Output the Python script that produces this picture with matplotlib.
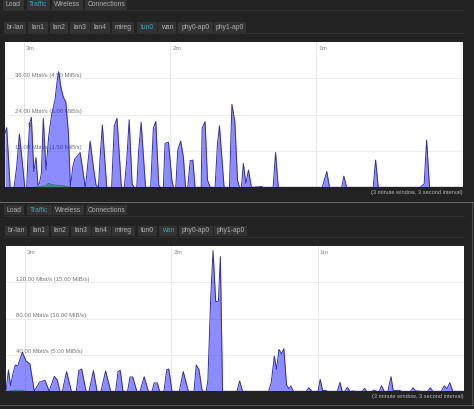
import matplotlib
matplotlib.use("Agg")
import matplotlib.pyplot as plt
from matplotlib.patches import Rectangle

plt.rcParams['font.family'] = ['Liberation Sans', 'DejaVu Sans']

# tun0: seconds since window start, Mbit/s
tun0_t = [0, 0.7, 2.1, 3.7, 4.8, 5.9, 7.0, 8.1, 8.9, 9.7, 10.1, 10.8, 11.8, 12.7, 13.5, 14.1, 14.9, 15.7, 16.8,
          17.9, 19.1, 20.5, 21.5, 22.0, 23.0, 23.9, 24.9, 26.0, 26.8, 27.8, 28.6, 30.8, 32.9, 33.2, 34.9, 36.2,
          37.3, 38.3, 39.0, 39.9, 41.7, 43.7, 44.8, 45.9, 47.7, 48.9, 49.9, 50.9, 52.1, 52.9, 54.0, 54.8, 55.8,
          57.6, 59.7, 60.8, 61.8, 63.0, 63.6, 64.9, 65.6, 67.0, 68.4, 69.0, 70.0, 70.8, 72.0, 73.1, 74.0, 74.9,
          75.9, 77.0, 77.9, 80.4, 80.8, 82.0, 83.0, 84.1, 86.1, 87.1, 87.9, 89.8, 92.0, 93.0, 94.2, 95.3, 96.1,
          96.9, 97.7, 98.7, 99.8, 101.0, 104.6, 105.1, 105.7, 109.9, 110.9, 112.0, 130.0, 131.9, 133.0, 138.0,
          138.9, 140.0, 150.9, 151.9, 153.0, 170.2, 171.1, 171.8, 172.8, 174.0, 187.7]
tun0_rx = [17.9, 19.7, 0, 0, 6.8, 17.6, 9.0, 0, 0, 15.6, 21.2, 23.1, 5.2, 9.8, 0.8, 1.3, 4.6, 22.8, 5.7,
           16.8, 23.9, 28.9, 36.0, 38.2, 32.7, 29.8, 28.3, 17.9, 0, 6.8, 9.3, 11.5, 0, 1.9, 15.3, 6.8,
           0.8, 0, 10.1, 20.6, 0, 0, 20.3, 22.8, 0, 0, 9.0, 22.3, 1.1, 0, 0, 12.3, 21.5,
           0, 0, 19.5, 21.8, 0.8, 0, 0, 14.5, 14.9, 2.4, 0, 0, 12.3, 15.3, 10.1, 0, 0,
           8.8, 9.0, 0, 0, 19.5, 21.7, 2.4, 0, 0, 14.5, 20.3, 0, 0, 27.4, 21.7, 2.4, 0,
           0, 7.9, 1.3, 5.7, 0, 0.2, 0.3, 0, 0, 11.5, 0, 0, 5.2, 0, 0,
           3.7, 0, 0, 9.0, 0, 0, 0.7, 1.1, 15.6, 0, 0]
tun0_tx_t = [11.6, 13.6, 15.0, 16.8, 17.8, 19.1, 21.2, 23.9, 26.4]
tun0_tx = [0, 0.2, 0.3, 0.5, 1.3, 0.9, 0.7, 0.5, 0]

# wan
wan_t = [0, 1.0, 1.9, 2.7, 3.8, 4.8, 6.7, 8.2, 9.8, 11.6, 12.6, 13.9, 16.0, 17.7, 18.3, 19.8, 21.0, 22.1, 23.1,
         24.8, 26.8, 28.8, 29.8, 31.0, 32.8, 34.0, 35.8, 37.3, 38.9, 40.8, 42.9, 44.9, 45.9, 46.8, 47.9, 49.8,
         50.8, 51.9, 53.6, 54.9, 56.6, 58.3, 59.8, 60.7, 62.0, 62.9, 64.7, 65.8, 66.7, 68.0, 71.0, 72.6, 74.7,
         77.0, 77.9, 79.0, 80.3, 80.8, 82.0, 82.7, 83.8, 84.8, 85.9, 87.0, 87.8, 88.7, 94.6, 95.7, 96.9, 107.6,
         108.7, 109.9, 110.8, 111.8, 112.9, 113.8, 114.9, 115.9, 116.7, 117.7, 122.9, 124.0, 125.4, 127.8, 128.7,
         129.7, 130.9, 131.7, 135.7, 136.8, 137.7, 138.8, 139.8, 140.9, 142.2, 143.2, 145.9, 146.9, 147.7, 150.0,
         150.8, 151.8, 152.9, 153.8, 154.9, 156.4, 157.7, 158.6, 161.1, 162.0, 165.7, 166.7, 167.8, 169.1, 169.8,
         172.7, 173.8, 174.8, 178.3, 179.5, 180.6, 181.8, 183.0, 187.6]
wan_rx = [0, 23.5, 5.9, 18, 29, 27.9, 42.9, 33.4, 30.1, 0, 5.1, 10.3, 12.1, 0, 5.1, 16.5, 12.5, 0, 0,
          21.7, 0, 0, 22.8, 24.6, 0, 0, 22.8, 0, 0, 22.4, 0, 0, 21.7, 23.1, 0, 0,
          15.8, 15.8, 0, 0, 16.1, 0, 0, 9.2, 9.2, 0, 0, 23.5, 24.6, 0, 0, 21.7, 0,
          0, 29, 24.2, 1.5, 0, 0, 12.5, 100, 154.9, 98.7, 99.1, 148.3, 0, 0, 11.4, 0, 0,
          10.6, 38.9, 24.2, 46.2, 41.1, 47, 7, 2.9, 5.9, 0, 0, 4, 0, 0, 13.2,
          0.7, 1.1, 0, 0, 9.9, 0, 0, 4.4, 0, 0.4, 0, 0, 3.3, 0, 0,
          1.5, 0, 0, 6.2, 0, 0, 16.1, 0.7, 1.1, 0, 0, 4, 0.4, 0.4, 0,
          0, 4, 0, 0, 5.9, 2.9, 9.5, 0, 0]
wan_tx_t = [1.0, 2.5, 4.5, 7.0, 8.0]
wan_tx = [0, 0.9, 1.2, 1.0, 0]

main_tabs = ['Load', 'Traffic', 'Wireless', 'Connections']
if_tabs = ['br-lan', 'lan1', 'lan2', 'lan3', 'lan4', 'mireg', 'tun0', 'wan', 'phy0-ap0', 'phy1-ap0']

# tab edges in pixels (left, right)
top_main = [(3, 24), (27, 50), (52, 83), (85, 127)]
top_if = [(4, 26), (28, 48), (50, 68), (70, 90), (91, 110), (112, 134), (137, 157), (158, 176), (178, 213), (214, 246)]
bot_main = [(4, 24), (27, 52), (53, 84), (86, 127)]
bot_if = [(5, 27), (30, 49), (51, 69), (71, 91), (92, 111), (112, 135), (138, 157), (159, 177), (179, 213), (214, 247)]

BG = '#222222'
TAB = '#333333'
TEXT = '#b0b0b0'
ACTIVE = '#3f9fb8'
LABEL = '#777777'
FILL = '#0000ff'
LINE = '#3030a4'

W, H = 474, 409
fig = plt.figure(figsize=(W / 100, H / 100), dpi=100, facecolor=BG)

# overlay in pixel coordinates for the page furniture
page = fig.add_axes([0, 0, 1, 1], zorder=0)
page.set_xlim(0, W)
page.set_ylim(H, 0)
page.axis('off')


def draw_tabs(edges, labels, y0, y1, active):
    for (a, b), name in zip(edges, labels):
        page.add_patch(Rectangle((a, y0), b - a, y1 - y0, fc=TAB, ec='none'))
        page.text((a + b) / 2, (y0 + y1) / 2, name, ha='center', va='center', fontsize=4.9,
                  color=ACTIVE if name == active else TEXT)


def draw_graph(box, t, rx, tx_t, tx, ymax, ticks, caption_y):
    left, right, top, bottom = box
    ax = fig.add_axes([left / W, 1 - bottom / H, (right - left) / W, (bottom - top) / H], zorder=1)
    ax.set_facecolor('white')
    ax.set_xlim(0, 187.6)
    ax.set_ylim(0, ymax)
    ax.set_xticks([])
    ax.set_yticks([])
    for s in ax.spines.values():
        s.set_visible(False)

    for x, name in zip([7.6, 67.6, 127.6], ['3m', '2m', '1m']):
        ax.axvline(x, color='#e8e8e8', lw=0.7, zorder=1)
        ax.text(x + 1, ymax * 0.97, name, fontsize=4.6, color='#888888', va='top', zorder=2)
    for mbit, mib in ticks:
        ax.axhline(mbit, color='#ececec', lw=0.7, zorder=1)
        ax.text(4, mbit + ymax * 0.022, f'{mbit:.2f} Mbit/s ({mib:.2f} MiB/s)', fontsize=4.35,
                color=LABEL, va='center', zorder=2)

    ax.fill_between(t, rx, 0, color=FILL, alpha=0.45, lw=0, zorder=3)
    ax.plot(t, rx, color=LINE, lw=0.7, zorder=4)
    ax.fill_between(tx_t, tx, 0, color='#008000', alpha=0.45, lw=0, zorder=5)
    ax.plot(tx_t, tx, color='#2a7a50', lw=0.6, zorder=5)

    page.text(right, caption_y, '(3 minute window, 3 second interval)', ha='right', va='center',
              fontsize=4.1, color='#b8b8b8')
    return ax


# separators
page.add_patch(Rectangle((0, 201.5), W, 1.6, fc='#6a6a6a', ec='none'))
page.add_patch(Rectangle((0, 404.5), W, 1.2, fc='#555555', ec='none'))
page.add_patch(Rectangle((472, 203), 1.2, 202, fc='#4a4a4a', ec='none'))
for y in [9.7, 32.5, 215.5, 236.5]:
    page.plot([3, 464], [y, y], color='#303030', lw=0.7)

draw_tabs(top_main, main_tabs, 0, 9.5, 'Traffic')
draw_tabs(top_if, if_tabs, 22, 32.5, 'tun0')
draw_tabs(bot_main, main_tabs, 205, 215, 'Traffic')
draw_tabs(bot_if, if_tabs, 226, 236, 'wan')

ax1 = draw_graph((5, 462.7, 42, 187.3), tun0_t, tun0_rx, tun0_tx_t, tun0_tx, 48,
                 [(12, 1.5), (24, 3), (36, 4.5)], 192.6)
ax1.text(9.5, 20.5, '5', fontsize=4.6, color='#555555', va='center', zorder=6)
draw_graph((6, 464, 246, 391.3), wan_t, wan_rx, wan_tx_t, wan_tx, 160,
           [(40, 5), (80, 10), (120, 15)], 396.7)

fig.savefig('out.png', dpi=100, facecolor=BG)
